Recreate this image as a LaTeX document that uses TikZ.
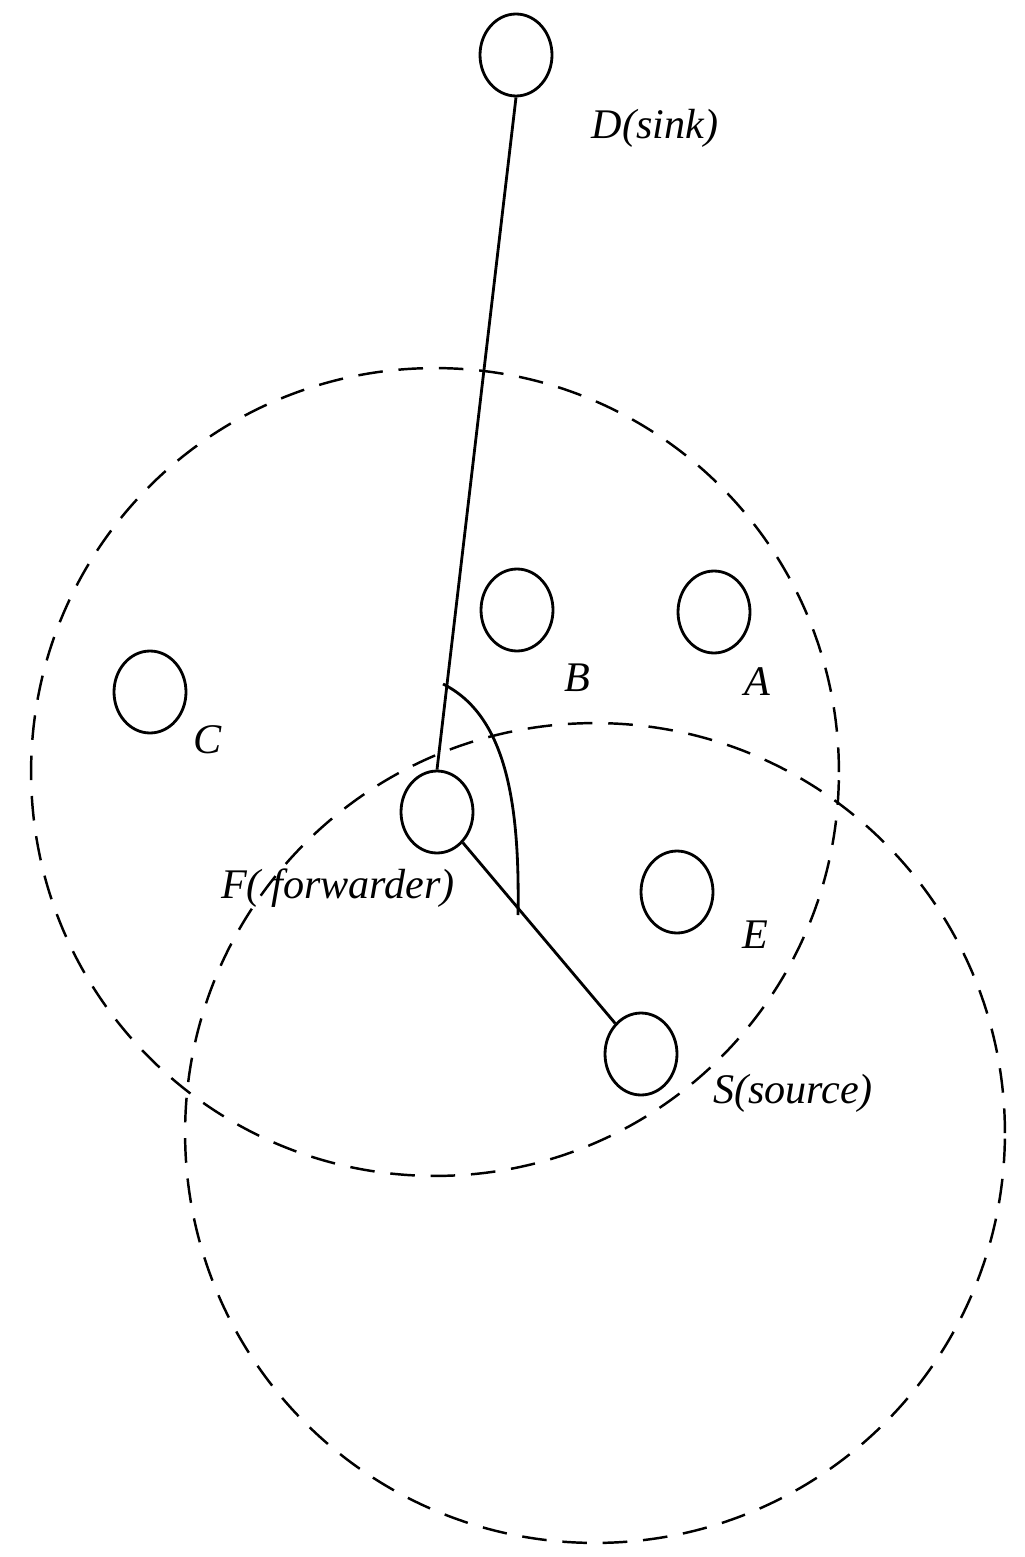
\documentclass[tikz,border=0pt]{standalone}
\usepackage{fontspec}
\setmainfont{Liberation Serif}
\usetikzlibrary{shapes.geometric}
\tikzset{
  sensor/.style={draw,ellipse,line width=1.6pt,minimum width=1.44cm,minimum height=1.64cm,inner sep=0pt},
  lbl/.style={font=\fontsize{24}{28}\selectfont\itshape},
  radiorange/.style={dashed,dash pattern=on 14pt off 9pt,line width=1.4pt}
}
\begin{document}
\begin{tikzpicture}[x=0.02cm,y=-0.02cm]
  \useasboundingbox (0,0) rectangle (1024,1557);
  % range circles
  \draw[radiorange] (435,772) circle[radius=8.08cm];
  \draw[radiorange] (595,1133) circle[radius=8.2cm];
  % nodes
  \node[sensor] (D) at (516,55) {};
  \node[sensor] (B) at (517,610) {};
  \node[sensor] (A) at (714,612) {};
  \node[sensor] (C) at (150,692) {};
  \node[sensor] (F) at (437,812) {};
  \node[sensor] (E) at (677,892) {};
  \node[sensor] (S) at (641,1054) {};
  % labels
  \node[lbl] (Dl) at (655,128) {D(sink)};
  \node[lbl] (Bl) at (577,678) {B};
  \node[lbl] (Al) at (757,682) {A};
  \node[lbl] (Cl) at (208,740) {C};
  \node[lbl] (Fl) at (338,888) {F( forwarder)};
  \node[lbl] (El) at (755,935) {E};
  \node[lbl] (Sl) at (793,1093) {S(source)};
  % links
  \draw[line width=1.6pt] (D.south) -- (F.north);
  \draw[line width=1.6pt] (F) -- (S);
  \coordinate (a1) at (443,684);
  \coordinate (a2) at (518,915);
  \draw[line width=1.6pt] (a1) .. controls (505,715) and (520,800) .. (a2);
\end{tikzpicture}
\end{document}
